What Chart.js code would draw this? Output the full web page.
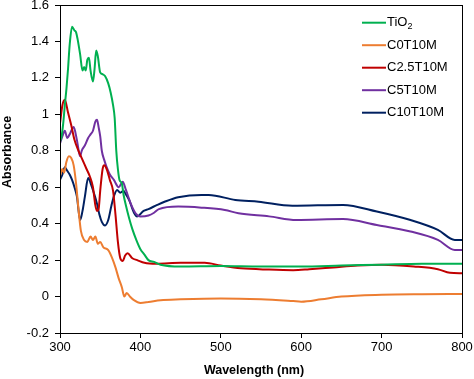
<!DOCTYPE html>
<html>
<head>
<meta charset="utf-8">
<script src="https://cdn.jsdelivr.net/npm/chart.js@4.4.1/dist/chart.umd.min.js"></script>
<style>
html,body{margin:0;padding:0;background:#fff;}
canvas{display:block;}
</style>
</head>
<body>
<canvas id="c" width="474" height="379"></canvas>
<script>
// ---- Data ----
const seriesNames = ["TiO2", "C0T10M", "C2.5T10M", "C5T10M", "C10T10M"];

const tio2Nm  = [300,302,304,306,308,310,312,315,318,320,322,325,328,330,332,334,336,338,341,343,345,347,350,353,356,360,363,366,368,370,372,374,377,379,382,386,390,395,400,405,410,417,425,450,500,550,600,650,700,750,800];
const tio2Abs = [0.85,0.88,0.95,1.05,1.14,1.25,1.38,1.48,1.46,1.45,1.41,1.33,1.24,1.26,1.24,1.30,1.31,1.24,1.18,1.25,1.35,1.32,1.23,1.22,1.21,1.17,1.12,1.05,0.98,0.80,0.70,0.64,0.62,0.56,0.50,0.43,0.37,0.31,0.26,0.23,0.20,0.19,0.175,0.165,0.168,0.165,0.165,0.17,0.175,0.18,0.18];

const c0Nm  = [300,303,305,308,311,314,317,320,323,326,330,334,338,341,344,347,350,354,360,365,369,373,377,380,383,387,392,400,410,425,450,500,550,590,600,625,650,700,750,800];
const c0Abs = [0.66,0.70,0.68,0.74,0.77,0.76,0.72,0.62,0.48,0.36,0.31,0.30,0.33,0.31,0.33,0.29,0.30,0.27,0.255,0.21,0.16,0.10,0.05,0.0,0.02,0.0,-0.02,-0.035,-0.03,-0.02,-0.015,-0.01,-0.015,-0.025,-0.028,-0.015,0.0,0.01,0.013,0.014];

const c25Nm  = [300,303,306,310,314,318,323,328,333,337,341,344,346,348,350,353,355,358,362,366,369,372,375,378,381,384,390,396,405,420,450,480,500,525,560,590,610,640,670,700,740,770,785,800];
const c25Abs = [0.95,1.05,1.08,1.01,0.94,0.86,0.80,0.75,0.70,0.66,0.60,0.50,0.47,0.48,0.58,0.70,0.72,0.70,0.64,0.58,0.45,0.30,0.21,0.195,0.225,0.238,0.21,0.20,0.185,0.18,0.185,0.185,0.17,0.155,0.148,0.145,0.15,0.16,0.17,0.175,0.165,0.15,0.13,0.128];

const c5Nm  = [300,303,306,309,312,317,321,325,327,331,335,338,341,344,346,348,350,352,355,358,362,367,373,378,382,388,394,400,410,417,423,447,476,505,522,560,594,652,694,736,770,791,800];
const c5Abs = [0.84,0.88,0.91,0.87,0.89,0.93,0.86,0.77,0.80,0.83,0.87,0.89,0.91,0.96,0.97,0.93,0.88,0.80,0.75,0.71,0.67,0.64,0.60,0.63,0.585,0.51,0.457,0.44,0.445,0.46,0.48,0.494,0.488,0.475,0.457,0.44,0.42,0.425,0.393,0.357,0.311,0.256,0.256];

const c10Nm  = [300,303,306,309,312,315,318,321,325,328,331,335,339,342,346,349,352,356,360,364,367,371,375,379,382,386,392,396,404,410,421,430,447,476,485,518,547,589,652,694,736,770,791,800];
const c10Abs = [0.64,0.67,0.71,0.69,0.67,0.64,0.60,0.55,0.42,0.47,0.55,0.65,0.61,0.57,0.51,0.45,0.41,0.39,0.42,0.50,0.55,0.585,0.57,0.58,0.56,0.53,0.46,0.44,0.47,0.48,0.503,0.52,0.545,0.558,0.558,0.53,0.52,0.498,0.503,0.467,0.42,0.366,0.311,0.311];

const xTicks = [300, 400, 500, 600, 700, 800];
const yTicks = [-0.2, 0, 0.2, 0.4, 0.6, 0.8, 1, 1.2, 1.4, 1.6];

// ---- Styling ----
const colors = ["#00B050", "#ED7D31", "#C00000", "#7030A0", "#002060"];
const FONT = "'Liberation Sans', Arial, sans-serif";

function toPoints(xs, ys) { return xs.map((x, i) => ({x: x, y: ys[i]})); }
const allSeries = [[tio2Nm, tio2Abs], [c0Nm, c0Abs], [c25Nm, c25Abs], [c5Nm, c5Abs], [c10Nm, c10Abs]];

const datasets = allSeries.map((s, i) => ({
  label: seriesNames[i],
  data: toPoints(s[0], s[1]),
  borderColor: colors[i],
  backgroundColor: colors[i],
  borderWidth: 2,
  pointRadius: 0,
  fill: false,
  cubicInterpolationMode: 'monotone'
}));

const decorPlugin = {
  id: 'decor',
  afterDraw(chart) {
    const ctx = chart.ctx;
    const a = chart.chartArea;
    ctx.save();
    // frame
    ctx.strokeStyle = '#000';
    ctx.lineWidth = 1;
    ctx.strokeRect(Math.round(a.left) + 0.5, Math.round(a.top) + 0.5, Math.round(a.right - a.left), Math.round(a.bottom - a.top));
    // legend
    ctx.textBaseline = 'middle';
    ctx.textAlign = 'left';
    chart.data.datasets.forEach((ds, i) => {
      const y = 22.7 + i * 22.5;
      ctx.strokeStyle = ds.borderColor;
      ctx.lineWidth = 2;
      ctx.beginPath();
      ctx.moveTo(362, y);
      ctx.lineTo(386, y);
      ctx.stroke();
      ctx.fillStyle = '#000';
      ctx.font = '13px ' + FONT;
      if (ds.label === 'TiO2') {
        ctx.fillText('TiO', 387, y);
        const w = ctx.measureText('TiO').width;
        ctx.font = '9px ' + FONT;
        ctx.fillText('2', 387 + w, y + 4);
      } else {
        ctx.fillText(ds.label, 387, y);
      }
    });
    // axis titles
    ctx.fillStyle = '#000';
    ctx.font = 'bold 12.5px ' + FONT;
    ctx.textAlign = 'center';
    ctx.textBaseline = 'middle';
    ctx.fillText('Wavelength (nm)', 254, 371);
    ctx.translate(8, 152);
    ctx.rotate(-Math.PI / 2);
    ctx.fillText('Absorbance', 0, 0);
    ctx.restore();
  }
};

new Chart(document.getElementById('c'), {
  type: 'line',
  data: { datasets: datasets },
  plugins: [decorPlugin],
  options: {
    responsive: false,
    animation: false,
    devicePixelRatio: 1,
    layout: { padding: { left: 0, top: 5, right: 12, bottom: 0 } },
    plugins: { legend: { display: false }, tooltip: { enabled: false } },
    scales: {
      x: {
        type: 'linear',
        min: 300, max: 800,
        afterBuildTicks(scale) { scale.ticks = xTicks.map(v => ({value: v})); },
        afterFit(scale) { scale.height = 46; scale.paddingLeft = 0; scale.paddingRight = 0; },
        grid: { display: true, drawOnChartArea: false, drawTicks: true, tickLength: 5, color: '#000', lineWidth: 1 },
        border: { display: true, color: '#000', width: 1 },
        ticks: { color: '#000', font: { family: FONT, size: 13 }, padding: 2, maxRotation: 0, callback: v => String(v) }
      },
      y: {
        type: 'linear',
        min: -0.2, max: 1.6,
        afterBuildTicks(scale) { scale.ticks = yTicks.map(v => ({value: v})); },
        afterFit(scale) { scale.width = 60; scale.paddingTop = 0; scale.paddingBottom = 0; },
        grid: { display: true, drawOnChartArea: false, drawTicks: true, tickLength: 5, color: '#000', lineWidth: 1 },
        border: { display: true, color: '#000', width: 1 },
        ticks: { color: '#000', font: { family: FONT, size: 13 }, padding: 6, callback: v => String(Number(v.toFixed(1))) }
      }
    }
  }
});
</script>
</body>
</html>
